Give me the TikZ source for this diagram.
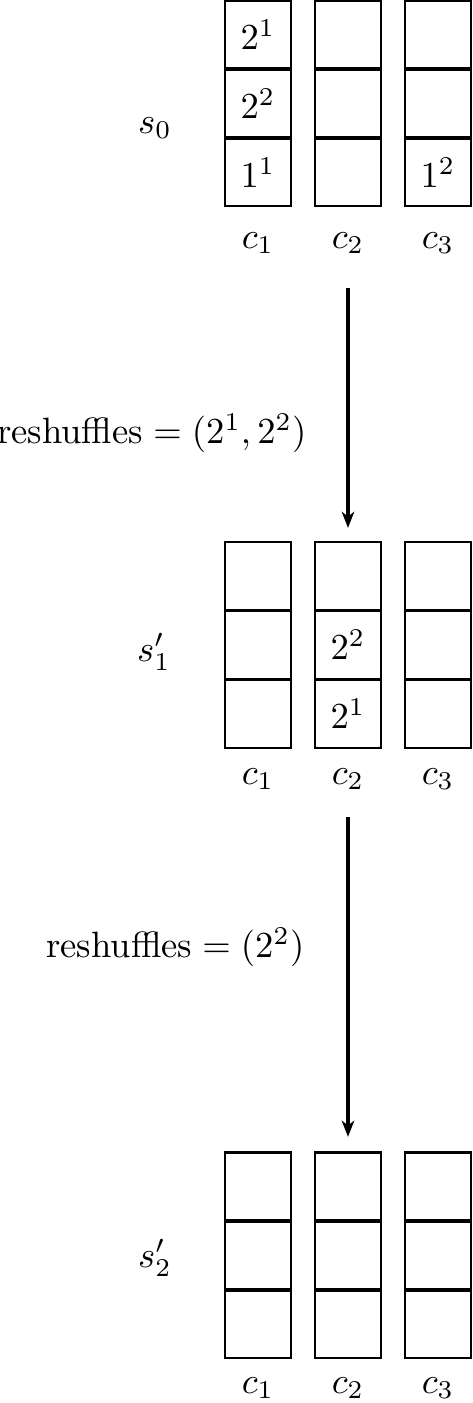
\documentclass[tikz,border=0pt]{standalone}
\usepackage{amsmath}
\usepackage{amssymb}
\usetikzlibrary{arrows.meta}

\begin{document}
\begin{tikzpicture}[x=.273pt, y=-.273pt, line cap=round, >={Stealth[length=4.4pt, width=3.4pt, inset=1.3pt]},
  case/.style={draw, line width=.55pt, minimum width=18pt, minimum height=18.3pt, inner sep=0pt},
  fleche/.style={->, line width=.9pt, line cap=butt, xshift=.55pt}]

\useasboundingbox (0,0) rectangle (473,1403);

%% Etat s_0.

\node[case] (A1h) at (258,34.5)  {$2^1$};
\node[case] (A1m) at (258,103.5) {$2^2$};
\node[case] (A1b) at (258,172.5) {$1^1$};
\node[case] (A2h) at (348,34.5)  {};
\node[case] (A2m) at (348,103.5) {};
\node[case] (A2b) at (348,172.5) {};
\node[case] (A3h) at (438,34.5)  {};
\node[case] (A3m) at (438,103.5) {};
\node[case] (A3b) at (438,172.5) {$1^2$};

\node (etatA) at (155,128) {$s_0$};
\node (colA1) at (258,243) {$c_1$};
\node (colA2) at (348,243) {$c_2$};
\node (colA3) at (438,243) {$c_3$};

%% Etat s'_1.

\node[case] (B1h) at (258,576) {};
\node[case] (B1m) at (258,645) {};
\node[case] (B1b) at (258,714) {};
\node[case] (B2h) at (348,576) {};
\node[case] (B2m) at (348,645) {$2^2$};
\node[case] (B2b) at (348,714) {$2^1$};
\node[case] (B3h) at (438,576) {};
\node[case] (B3m) at (438,645) {};
\node[case] (B3b) at (438,714) {};

\node (etatB) at (154,652) {$s'_1$};
\node (colB1) at (258,779) {$c_1$};
\node (colB2) at (348,779) {$c_2$};
\node (colB3) at (438,779) {$c_3$};

%% Etat s'_2.

\node[case] (C1h) at (258,1186) {};
\node[case] (C1m) at (258,1255) {};
\node[case] (C1b) at (258,1324) {};
\node[case] (C2h) at (348,1186) {};
\node[case] (C2m) at (348,1255) {};
\node[case] (C2b) at (348,1324) {};
\node[case] (C3h) at (438,1186) {};
\node[case] (C3m) at (438,1255) {};
\node[case] (C3b) at (438,1324) {};

\node (etatC) at (155,1258) {$s'_2$};
\node (colC1) at (258,1388) {$c_1$};
\node (colC2) at (348,1388) {$c_2$};
\node (colC3) at (438,1388) {$c_3$};

%% Transitions.

\draw[fleche, shorten <=5.8pt, shorten >=3.7pt] (colA2) -- (B2h);
\draw[fleche, shorten <=4pt, shorten >=4pt] (colB2) -- (C2h);

\node[anchor=east, inner sep=0pt] (remA) at (307,433) {$\text{reshuffles} = (2^1, 2^2)$};
\node[anchor=east, inner sep=0pt] (remB) at (305,947) {$\text{reshuffles} = (2^2)$};

\end{tikzpicture}
\end{document}
